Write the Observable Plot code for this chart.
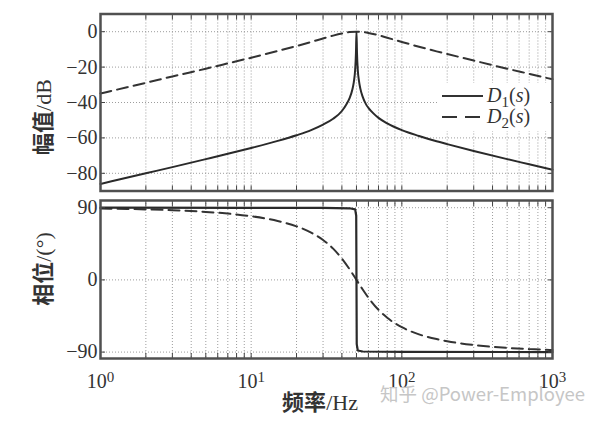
<!DOCTYPE html>
<html><head><meta charset="utf-8">
<script src="https://cdn.jsdelivr.net/npm/d3@7"></script>
<script src="https://cdn.jsdelivr.net/npm/@observablehq/plot@0.6"></script>
<style>
html,body{margin:0;padding:0;background:#fff;}
#chart{position:relative;width:600px;height:425px;overflow:hidden;}
#chart svg{display:block;}
</style></head><body><div id="chart"></div>
<script>
// ---- data ----
const freqD1 = [1, 2, 3, 5, 7, 10, 15, 20, 25, 30, 35, 40, 43, 45, 47, 48, 49, 49.6, 50, 50.4, 51, 52, 53, 55, 58, 60, 65, 70, 80, 100, 130, 170, 200, 300, 500, 700, 1000];
const magD1 = [-86.0, -80.0, -76.5, -72.0, -69.0, -65.7, -61.7, -58.5, -55.6, -52.5, -49.2, -44.8, -40.8, -37.5, -32.5, -28.5, -21.5, -12.0, 0, -12.0, -21.5, -28.0, -32.0, -36.8, -41.2, -43.0, -46.3, -48.7, -51.8, -55.6, -58.9, -61.9, -63.5, -67.4, -72.0, -74.9, -78.0];
const freqD1Phase = [1, 10, 30, 45, 49, 49.8, 50, 50.2, 51, 55, 100, 1000];
const phaseD1 = [90, 89.9, 89.7, 89.3, 88, 80, 0, -80, -88, -89.3, -89.7, -90];
const freqD2 = [1, 1.5, 2, 3, 5, 7, 10, 15, 20, 25, 30, 35, 40, 45, 50, 55, 60, 70, 80, 100, 130, 170, 200, 300, 500, 700, 1000];
const magD2 = [-34.9, -31.4, -28.9, -25.3, -20.9, -17.9, -14.7, -10.9, -8.1, -5.8, -3.8, -2.2, -1.0, -0.2, 0, -0.2, -0.7, -2.0, -3.4, -5.8, -8.5, -11.1, -12.6, -16.3, -20.9, -23.8, -26.9];
const phaseD2 = [89.0, 88.5, 87.9, 86.9, 84.8, 82.7, 79.4, 73.5, 66.8, 59.0, 49.8, 39.0, 26.6, 13.2, 0, -12.0, -22.2, -37.3, -47.3, -59.0, -67.9, -73.8, -76.5, -81.2, -84.8, -86.3, -87.4];
const magTicks = [0, -20, -40, -60, -80];
const phaseTicks = [90, 0, -90];
const gridFreqs = [1,2,3,4,5,6,7,8,9,10,20,30,40,50,60,70,80,90,100,200,300,400,500,600,700,800,900,1000];
const decadeTicks = [1, 10, 100, 1000];
const decadeExps = ["0", "1", "2", "3"];
const seriesBase = ["D", "D"];
const seriesSub = ["1", "2"];
const seriesArg = ["s", "s"];
const magLabel = ["幅值", "/dB"];
const phaseLabel = ["相位", "/(°)"];
const freqLabel = ["频率", "/Hz"];
const watermark = "知乎 @Power-Employee";

// ---- tables ----
const d1Mag = freqD1.map((f, i) => ({f, v: magD1[i]}));
const d2Mag = freqD2.map((f, i) => ({f, v: magD2[i]}));
const d1Ph = freqD1Phase.map((f, i) => ({f, v: phaseD1[i]}));
const d2Ph = freqD2.map((f, i) => ({f, v: phaseD2[i]}));

const serif = '"Liberation Serif", "Times New Roman", serif';
const cjk = '"Noto Sans CJK SC", sans-serif';
const ink = "#2a2a2a";
const fmt = d => d < 0 ? "\u2212" + Math.abs(d) : String(d);
const gridStyle = {stroke: "#8c8c8c", strokeOpacity: 0.85, strokeDasharray: "1,2", strokeWidth: 1};
const tickStyle = {tickSize: -5, fill: "none", label: null, stroke: "#444"};

function frameMarks(yTicks) {
  return [
    Plot.axisX(gridFreqs, {anchor: "bottom", ...tickStyle}),
    Plot.axisX(gridFreqs, {anchor: "top", ...tickStyle}),
    Plot.axisY(yTicks, {anchor: "left", ...tickStyle}),
    Plot.axisY(yTicks, {anchor: "right", ...tickStyle}),
    Plot.axisY(yTicks, {anchor: "left", tickSize: 0, tickPadding: 3, tickFormat: fmt, label: null,
      fontFamily: serif, fontSize: 20, fill: "#333"}),
    Plot.frame({stroke: "#505050", strokeWidth: 2.5})
  ];
}

const common = {
  width: 600, marginLeft: 100, marginRight: 48,
  x: {type: "log", domain: [1, 1000]},
  style: {fontFamily: serif, fontSize: "20px", color: "#333", background: "transparent", overflow: "visible"}
};

const topPlot = Plot.plot({
  ...common,
  height: 195, marginTop: 13.5, marginBottom: 4.5,
  y: {domain: [-90, 10]},
  marks: [
    Plot.gridX(gridFreqs, gridStyle),
    Plot.gridY(magTicks, gridStyle),
    Plot.line(d2Mag, {x: "f", y: "v", stroke: "#333", strokeWidth: 2, strokeDasharray: "11,6", curve: "monotone-x"}),
    Plot.line(d1Mag, {x: "f", y: "v", stroke: ink, strokeWidth: 2, curve: "monotone-x"}),
    ...frameMarks(magTicks)
  ]
});

const botPlot = Plot.plot({
  ...common,
  height: 230, marginTop: 5, marginBottom: 67,
  y: {domain: [-98, 99]},
  marks: [
    Plot.gridX(gridFreqs, gridStyle),
    Plot.gridY(phaseTicks, gridStyle),
    Plot.line(d2Ph, {x: "f", y: "v", stroke: "#333", strokeWidth: 2, strokeDasharray: "11,6", curve: "monotone-x"}),
    Plot.line(d1Ph, {x: "f", y: "v", stroke: ink, strokeWidth: 2.2}),
    Plot.axisX(decadeTicks, {anchor: "bottom", tickSize: 0, tickPadding: 15, label: null,
      fontFamily: serif, fontSize: 20, fill: "#333",
      tickFormat: d => decadeExps[decadeTicks.indexOf(d)]}),
    ...frameMarks(phaseTicks)
  ]
});

const chart = document.getElementById("chart");
chart.appendChild(topPlot);
chart.appendChild(botPlot);

// superscript decade labels
d3.select(botPlot).selectAll('g[aria-label="x-axis tick label"] text').each(function() {
  const e = this.textContent;
  if (!e) return;
  const t = d3.select(this);
  t.text(null);
  t.append("tspan").text("10");
  t.append("tspan").attr("dy", -6).attr("font-size", 15).text(e);
});

// legend
const sTop = d3.select(topPlot);
const lg = sTop.append("g").attr("font-family", serif).attr("font-size", 20).attr("fill", "#333")
  .attr("text-anchor", "start");
lg.append("rect").attr("x", 439).attr("y", 83).attr("width", 111).attr("height", 48).attr("fill", "#fff");
[0, 1].forEach(i => {
  const y = i === 0 ? 96 : 117;
  lg.append("line").attr("x1", 442).attr("x2", 483).attr("y1", y).attr("y2", y)
    .attr("stroke", "#333").attr("stroke-width", 2).attr("stroke-dasharray", i === 0 ? null : "15,8");
  const t = lg.append("text").attr("x", 487).attr("y", y + 6).attr("text-anchor", "start");
  t.append("tspan").attr("font-style", "italic").text(seriesBase[i]);
  t.append("tspan").attr("font-size", 15).attr("dy", 5).text(seriesSub[i]);
  t.append("tspan").attr("dy", -5).text("(");
  t.append("tspan").attr("font-style", "italic").text(seriesArg[i]);
  t.append("tspan").text(")");
});

function yLabel(svg, cx, cy, parts) {
  const t = svg.append("text").attr("transform", `translate(${cx},${cy}) rotate(-90)`)
    .attr("text-anchor", "middle").attr("dy", "0.35em").attr("font-size", 22).attr("fill", "#333");
  t.append("tspan").attr("font-family", cjk).attr("font-weight", "bold").text(parts[0]);
  t.append("tspan").attr("font-family", serif).text(parts[1]);
}
yLabel(sTop, 43, 117, magLabel);
const sBot = d3.select(botPlot);
yLabel(sBot, 43, 74, phaseLabel);

const xl = sBot.append("text").attr("x", 320).attr("y", 215).attr("text-anchor", "middle")
  .attr("font-size", 22).attr("fill", "#333");
xl.append("tspan").attr("font-family", cjk).attr("font-weight", "bold").text(freqLabel[0]);
xl.append("tspan").attr("font-family", serif).text(freqLabel[1]);

sBot.append("text").attr("x", 380).attr("y", 206).attr("text-anchor", "start")
  .attr("font-family", cjk).attr("font-size", 18.5).attr("fill", "#c6c6c6").text(watermark);
</script></body></html>
